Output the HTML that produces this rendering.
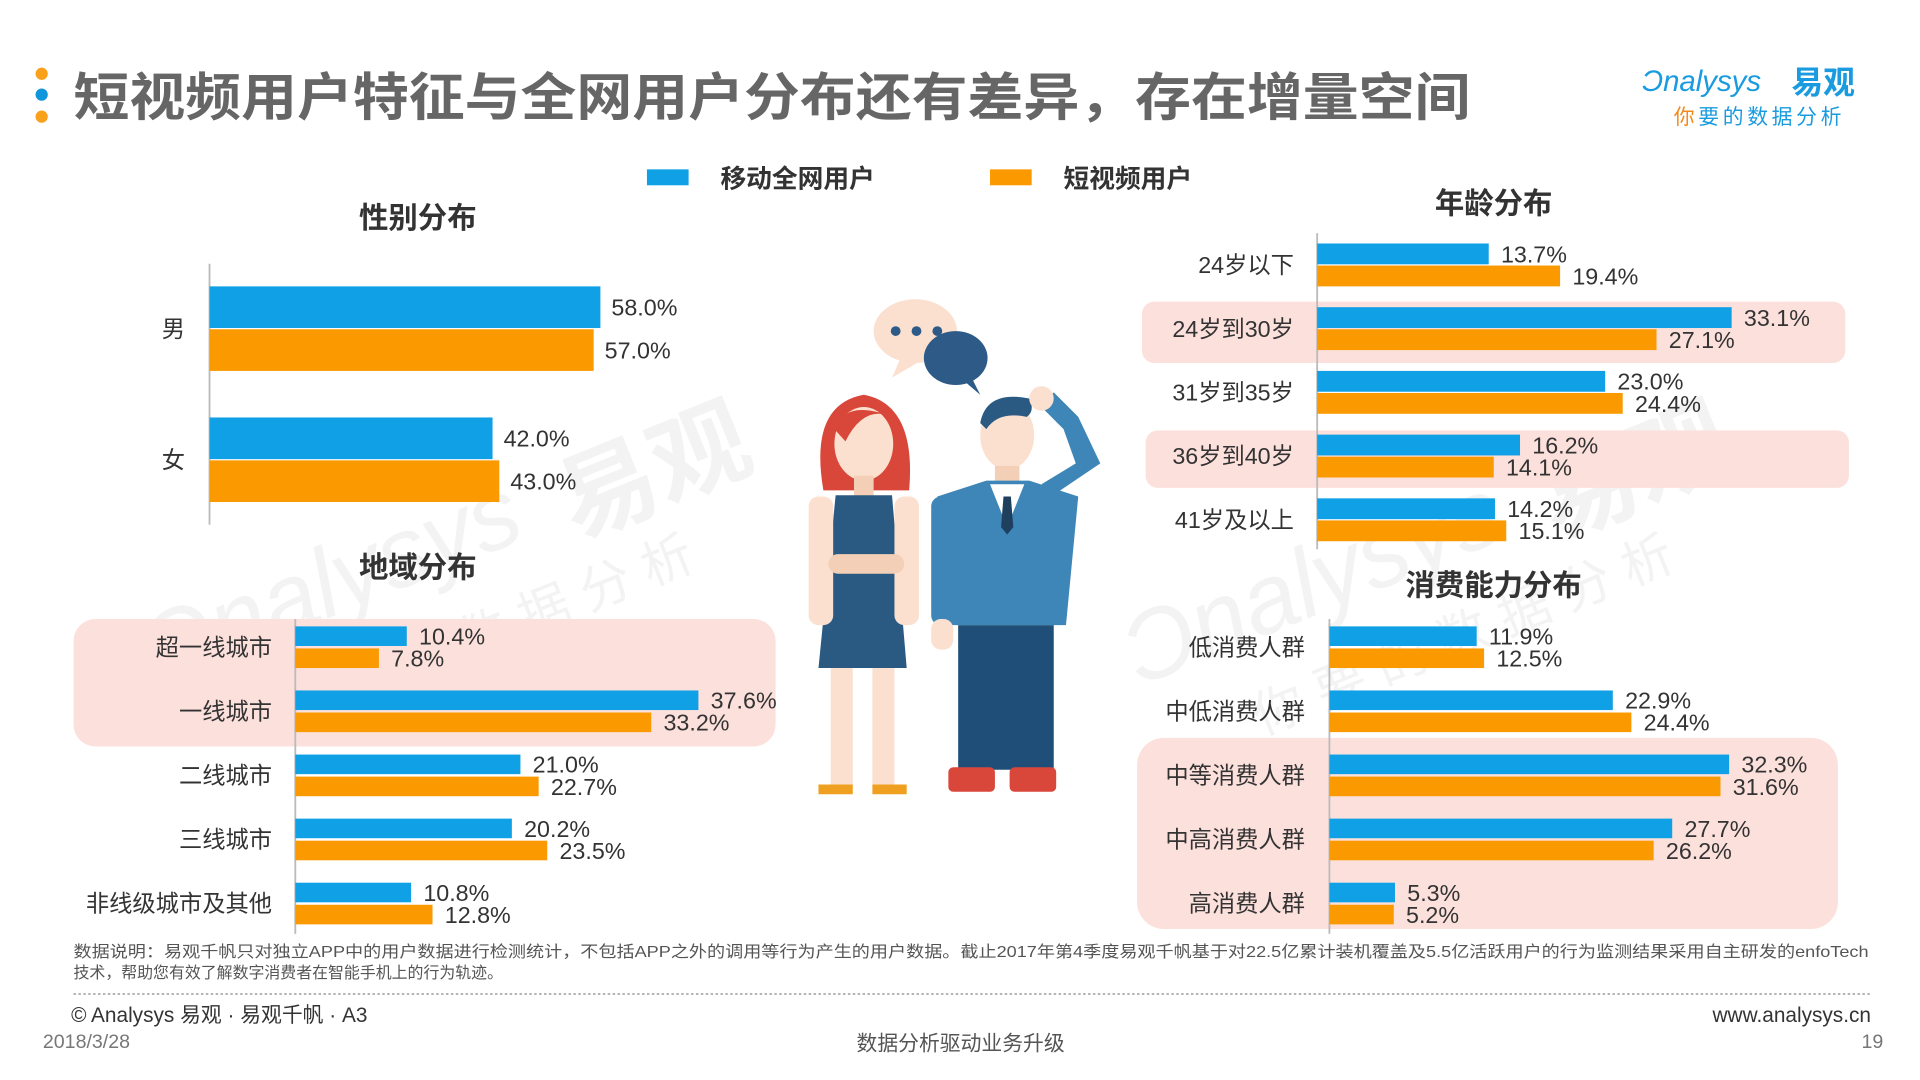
<!DOCTYPE html>
<html><head><meta charset="utf-8">
<style>
html,body{margin:0;padding:0;background:#fff;}
svg{display:block;font-family:"Liberation Sans","Noto Sans CJK SC",sans-serif;}
</style></head>
<body>
<svg id="root" width="1920" height="1080" viewBox="0 0 1567 881" xmlns="http://www.w3.org/2000/svg">
<!-- header -->
<circle cx="34" cy="60" r="5" fill="#f9a11b"/>
<circle cx="34" cy="77" r="5" fill="#1296db"/>
<circle cx="34" cy="95" r="5" fill="#f9a11b"/>
<text x="60" y="94" font-size="42" font-weight="bold" fill="#666" textLength="1140" lengthAdjust="spacingAndGlyphs">短视频用户特征与全网用户分布还有差异，存在增量空间</text>
<g>
<text x="1340" y="74" font-size="24" font-style="italic" fill="#1a9be0">Ɔnalysys</text>
<text x="1462" y="76" font-size="26" font-weight="bold" fill="#1a9be0">易观</text>
<text x="1366" y="101" font-size="17" fill="#1a9be0" letter-spacing="3"><tspan fill="#f08a1c">你</tspan>要的数据分析</text>
</g>
<!-- watermarks -->
<g fill="#f3f3f3">
<text x="130" y="560" font-size="80" font-style="italic" transform="rotate(-22 130 560)">Ɔnalysys</text>
<text x="470" y="440" font-size="80" font-weight="bold" transform="rotate(-22 470 440)">易观</text>
<text x="230" y="600" font-size="42" transform="rotate(-22 230 600)" letter-spacing="12">你要的数据分析</text>
<text x="930" y="560" font-size="80" font-style="italic" transform="rotate(-22 930 560)">Ɔnalysys</text>
<text x="1270" y="440" font-size="80" font-weight="bold" transform="rotate(-22 1270 440)">易观</text>
<text x="1030" y="600" font-size="42" transform="rotate(-22 1030 600)" letter-spacing="12">你要的数据分析</text>
</g>
<!-- legend -->
<rect x="528" y="138" width="34" height="13" fill="#0fa0e6"/>
<text x="588" y="153" font-size="21" font-weight="bold" fill="#333">移动全网用户</text>
<rect x="808" y="138" width="34" height="13" fill="#fb9a00"/>
<text x="868" y="153" font-size="21" font-weight="bold" fill="#333">短视频用户</text>
<!-- highlights -->
<rect x="60" y="505" width="573" height="104" rx="18" fill="#fce0dc"/>
<rect x="932" y="246" width="574" height="50" rx="10" fill="#fce0dc"/>
<rect x="935" y="351" width="574" height="47" rx="10" fill="#fce0dc"/>
<rect x="928" y="602" width="572" height="156" rx="22" fill="#fce0dc"/>
<!-- titles -->
<text x="341" y="186" font-size="24" font-weight="bold" fill="#333" text-anchor="middle">性别分布</text>
<text x="341" y="471" font-size="24" font-weight="bold" fill="#333" text-anchor="middle">地域分布</text>
<text x="1219" y="174" font-size="24" font-weight="bold" fill="#333" text-anchor="middle">年龄分布</text>
<text x="1219" y="486" font-size="24" font-weight="bold" fill="#333" text-anchor="middle">消费能力分布</text>
<g id="charts"></g>
<!-- illustration -->
<g>
<ellipse cx="747" cy="270" rx="34" ry="26" fill="#fbe0cf"/>
<path d="M735 292 L728 308 L752 294Z" fill="#fbe0cf"/>
<circle cx="731" cy="270" r="4" fill="#2d5a87"/><circle cx="748" cy="270" r="4" fill="#2d5a87"/><circle cx="765" cy="270" r="4" fill="#2d5a87"/>
<ellipse cx="780" cy="292" rx="26" ry="22" fill="#2d5a87"/>
<path d="M786 310 L800 322 L792 306Z" fill="#2d5a87"/>
<path d="M672 400 Q660 330 705 322 Q748 330 742 400Z" fill="#d9473a"/>
<ellipse cx="705" cy="362" rx="24" ry="30" fill="#fbe0cf"/>
<path d="M681 350 Q690 325 728 340 Q705 330 690 360Z" fill="#d9473a"/>
<rect x="697" y="388" width="16" height="18" fill="#f3cfb8"/>
<path d="M682 404 L728 404 L740 545 L668 545Z" fill="#2a5a82"/>
<rect x="660" y="405" width="20" height="105" rx="8" fill="#fbe0cf"/>
<rect x="730" y="405" width="20" height="105" rx="8" fill="#fbe0cf"/>
<rect x="676" y="452" width="62" height="16" rx="8" fill="#f3cfb8"/>
<rect x="678" y="545" width="18" height="95" fill="#fbe0cf"/>
<rect x="712" y="545" width="18" height="95" fill="#fbe0cf"/>
<path d="M668 640 L696 640 L696 648 L668 648Z" fill="#f0a020"/>
<path d="M712 640 L740 640 L740 648 L712 648Z" fill="#f0a020"/>
<ellipse cx="822" cy="355" rx="22" ry="28" fill="#fbe0cf"/>
<path d="M800 345 Q805 318 840 325 Q845 335 838 340 Q815 335 805 350Z" fill="#2a5a82"/>
<rect x="812" y="380" width="20" height="18" fill="#f3cfb8"/>
<path d="M765 405 L805 392 L840 392 L880 405 L870 510 L775 510Z" fill="#3e86b8"/>
<path d="M808 395 L822 430 L836 395Z" fill="#fff"/>
<path d="M819 405 L825 405 L827 430 L822 436 L817 430Z" fill="#1f3f5f"/>
<path d="M858 405 L898 378 L880 340 L860 320 L850 332 L868 350 L878 378 L850 395Z" fill="#3e86b8"/>
<circle cx="850" cy="325" r="10" fill="#fbe0cf"/>
<rect x="760" y="405" width="20" height="105" rx="8" fill="#3e86b8"/>
<rect x="760" y="505" width="18" height="25" rx="8" fill="#fbe0cf"/>
<rect x="782" y="510" width="78" height="118" fill="#1f4f78"/>
<rect x="774" y="626" width="38" height="20" rx="4" fill="#d9473a"/>
<rect x="824" y="626" width="38" height="20" rx="4" fill="#d9473a"/>
</g>
<!-- footer -->
<text x="60" y="781" font-size="13" fill="#555" textLength="1465" lengthAdjust="spacingAndGlyphs">数据说明：易观千帆只对独立APP中的用户数据进行检测统计，不包括APP之外的调用等行为产生的用户数据。截止2017年第4季度易观千帆基于对22.5亿累计装机覆盖及5.5亿活跃用户的行为监测结果采用自主研发的enfoTech</text>
<text x="60" y="798" font-size="13" fill="#555">技术，帮助您有效了解数字消费者在智能手机上的行为轨迹。</text>
<line x1="60" y1="811" x2="1527" y2="811" stroke="#888" stroke-dasharray="2,2"/>
<text x="58" y="834" font-size="17" fill="#333">© Analysys 易观 · 易观千帆 · A3</text>
<text x="35" y="855" font-size="16" fill="#777">2018/3/28</text>
<text x="784" y="857" font-size="17" fill="#555" text-anchor="middle">数据分析驱动业务升级</text>
<text x="1527" y="834" font-size="17" fill="#333" text-anchor="end">www.analysys.cn</text>
<text x="1537" y="855" font-size="16" fill="#777" text-anchor="end">19</text>
</svg>
<script>
const genderCats = ["男","女"];
const genderAll = [58.0, 42.0];
const genderShort = [57.0, 43.0];
const regionCats = ["超一线城市","一线城市","二线城市","三线城市","非线级城市及其他"];
const regionAll = [10.4, 37.6, 21.0, 20.2, 10.8];
const regionShort = [7.8, 33.2, 22.7, 23.5, 12.8];
const ageCats = ["24岁以下","24岁到30岁","31岁到35岁","36岁到40岁","41岁及以上"];
const ageAll = [13.7, 33.1, 23.0, 16.2, 14.2];
const ageShort = [19.4, 27.1, 24.4, 14.1, 15.1];
const consumeCats = ["低消费人群","中低消费人群","中等消费人群","中高消费人群","高消费人群"];
const consumeAll = [11.9, 22.9, 32.3, 27.7, 5.3];
const consumeShort = [12.5, 24.4, 31.6, 26.2, 5.2];

const NS = "http://www.w3.org/2000/svg";
const host = document.getElementById('charts');
function mk(tag, attrs, parent){const e=document.createElementNS(NS,tag);for(const k in attrs)e.setAttribute(k,attrs[k]);(parent||host).appendChild(e);return e;}

function chart(name, cats, a, b, cfg){
  const g = mk('g',{});
  
  
  const xs = v => cfg.x0 + v*cfg.ppu;
  const ax = mk('line',{x1:cfg.x0,x2:cfg.x0,y1:cfg.axTop,y2:cfg.axBot,stroke:'#bbb','stroke-width':1.5},g);
  
  
  cats.forEach((c,i)=>{
    const cy = cfg.y0 + i*cfg.step;
    const t = mk('text',{x:cfg.labelX,y:cy+cfg.fs*0.35,'font-size':cfg.fs,fill:'#333','text-anchor':'end'},g);
    t.textContent = c;
    
    
    [[a[i],'#0fa0e6',cy-cfg.bh-cfg.gap/2,'all'],[b[i],'#fb9a00',cy+cfg.gap/2,'short']].forEach(([v,col,y,s])=>{
      const r = mk('rect',{x:cfg.x0,y:y,width:xs(v)-cfg.x0,height:cfg.bh,fill:col},g);
      
      
      const l = mk('text',{x:xs(v)+cfg.lo,y:y+cfg.bh/2+cfg.vfs*0.36,'font-size':cfg.vfs,fill:'#333'},g);
      l.textContent = v.toFixed(1)+'%';
      
      
    });
  });
}
chart('gender', genderCats, genderAll, genderShort, {x0:171,ppu:5.5,axTop:215,axBot:428,y0:268,step:107,bh:34,gap:1,labelX:151,fs:19,vfs:19,lo:9});
chart('region', regionCats, regionAll, regionShort, {x0:241,ppu:8.75,axTop:505,axBot:762,y0:528,step:52.3,bh:16,gap:2,labelX:222,fs:19,vfs:19,lo:10});
chart('age', ageCats, ageAll, ageShort, {x0:1075,ppu:10.22,axTop:190,axBot:448,y0:216,step:52,bh:17,gap:1,labelX:1056,fs:19,vfs:19,lo:10});
chart('consume', consumeCats, consumeAll, consumeShort, {x0:1085,ppu:10.1,axTop:505,axBot:762,y0:528,step:52.3,bh:16,gap:2,labelX:1065,fs:19,vfs:19,lo:10});
</script>
</body></html>
